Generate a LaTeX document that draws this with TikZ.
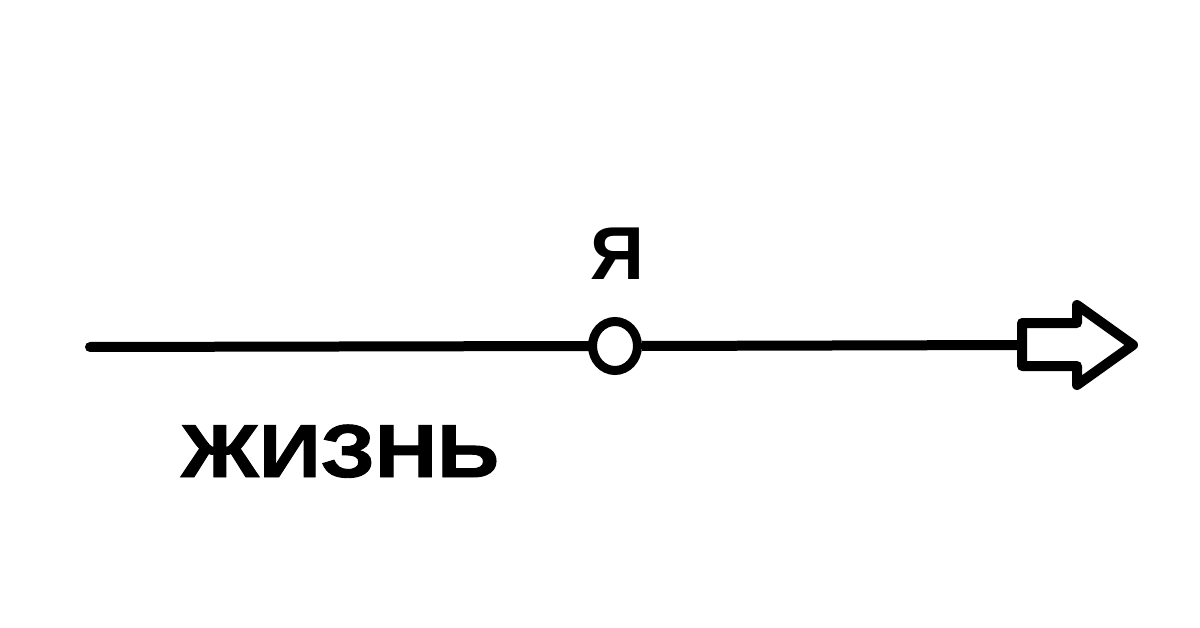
\documentclass[tikz,border=0pt]{standalone}
\usepackage{fontspec}
\setmainfont{Liberation Sans}
\newfontfamily\heavyfont[FakeBold=1.2]{Liberation Sans Bold}
\usetikzlibrary{shapes.geometric}
\begin{document}
\begin{tikzpicture}[x=1bp,y=-1bp,
  stroke/.style={line width=10bp, black},
  lbl/.style={font=\fontsize{75bp}{80bp}\selectfont\bfseries, inner sep=0pt, anchor=base}]
\useasboundingbox (0,0) rectangle (1200,628);
\fill[white] (0,0) rectangle (1200,628);
\coordinate (start) at (90,347);
\node[draw, ellipse, line width=9bp, minimum width=45bp, minimum height=49bp, inner sep=0pt] (me) at (615,346) {};
\coordinate (tail) at (1022,345);
\draw[stroke, line cap=round] (start) -- (me.west);
\draw[stroke] (me.east) -- (tail);
\draw[stroke, line join=round] (tail |- 0,323) -- (1077,323) -- (1077,305) -- (1133,345) -- (1077,385) -- (1077,366) -- (tail |- 0,366) -- cycle;
\node[lbl] (ya) at (617,280) {Я};
\node[lbl] (life) at (340,477) {\scalebox{1.15}[1]{\heavyfont ЖИЗНЬ}};
\end{tikzpicture}
\end{document}
